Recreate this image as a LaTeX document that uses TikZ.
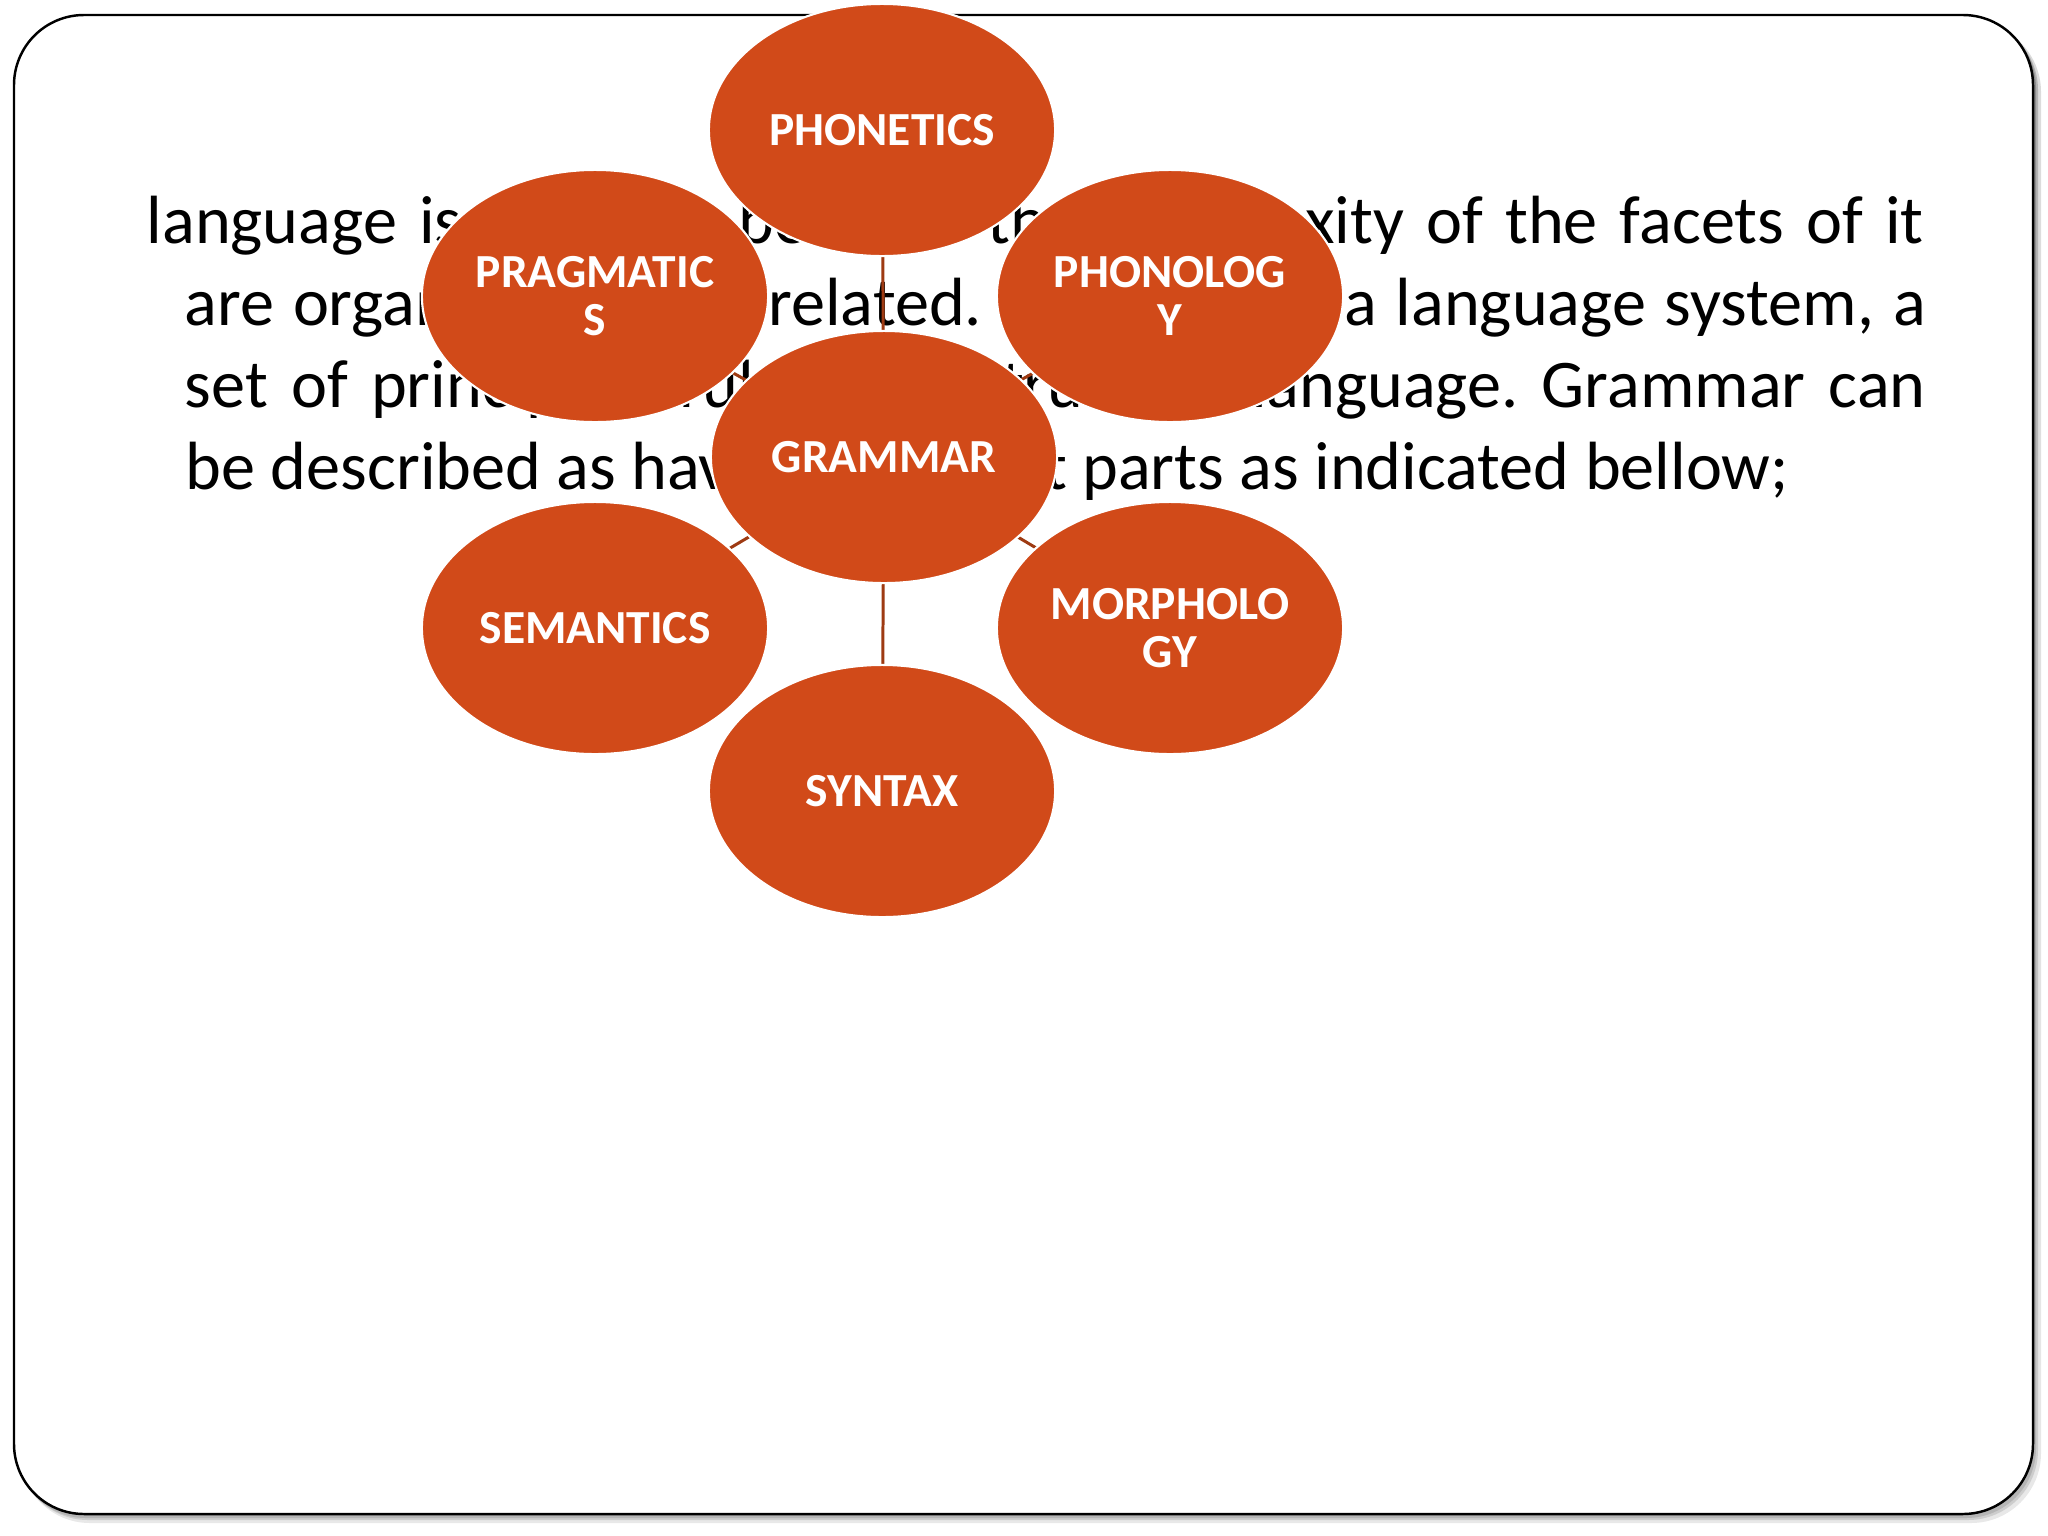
\documentclass[tikz,border=0pt]{standalone}
\usepackage{fontspec}
\setmainfont{Carlito}
\usetikzlibrary{shapes.geometric}
\definecolor{petal}{HTML}{D14A19}
\definecolor{linkc}{HTML}{9E3A12}
\definecolor{shade}{HTML}{808080}
\frenchspacing
\pgfdeclarelayer{back}
\pgfdeclarelayer{mid}
\pgfsetlayers{back,mid,main}
\tikzset{
  petalnode/.style={ellipse, fill=petal, draw=white, line width=0.6pt,
    minimum width=3.46cm, minimum height=2.52cm, inner sep=0pt,
    text=white, align=center,
    font=\fontsize{13.5pt}{13.7pt}\selectfont\bfseries},
  bodytext/.style={anchor=base west, inner sep=0pt, text=black,
    font=\fontsize{19.4pt}{23.3pt}\selectfont},
  link/.style={draw=linkc, line width=0.85pt},
  frame/.style={draw=black, line width=0.7pt, fill=white, rounded corners=0.7cm}
}
\begin{document}
\begin{tikzpicture}[x=0.01cm,y=-0.01cm]
\useasboundingbox (0,0) rectangle (2048,1536);

% petals
\node[petalnode] (phonetics) at (882,130) {PHONETICS};
\node[petalnode] (pragmatics) at (595,296) {PRAGMATIC\\S};
\node[petalnode] (phonology) at (1170,296) {PHONOLOG\\Y};
\node[petalnode] (grammar) at (884,457) {GRAMMAR};
\node[petalnode] (semantics) at (595,628) {SEMANTICS};
\node[petalnode] (morphology) at (1170,628) {MORPHOLO\\GY};
\node[petalnode] (syntax) at (882,791) {SYNTAX};

\begin{pgfonlayer}{mid}
\draw[link] (grammar.center) -- (phonetics.center);
\draw[link] (grammar.center) -- (pragmatics.center);
\draw[link] (grammar.center) -- (phonology.center);
\draw[link] (grammar.center) -- (semantics.center);
\draw[link] (grammar.center) -- (morphology.center);
\draw[link] (grammar.center) -- (syntax.center);
\end{pgfonlayer}

\begin{pgfonlayer}{back}
% frame with soft shadow
\fill[shade, opacity=0.10, rounded corners=0.7cm] (20,22) rectangle (2041,1523);
\fill[shade, opacity=0.15, rounded corners=0.7cm] (18,20) rectangle (2038,1520);
\fill[shade, opacity=0.20, rounded corners=0.7cm] (16,18) rectangle (2036,1518);
\path[frame] (14,15) rectangle (2033,1514);
% body text
\node[bodytext] (line1) at (146,243) {\makebox[17.76cm][s]{language is complex because the complexity of the facets of it}};
\node[bodytext] (line2) at (184,325) {\makebox[17.40cm][s]{are organic and interrelated. Grammar is a language system, a}};
\node[bodytext] (line3) at (184,407) {\makebox[17.40cm][s]{set of principles, rules that structure language. Grammar can}};
\node[bodytext] (line4) at (185,489) {be described as having different parts as indicated bellow;};
\end{pgfonlayer}
\end{tikzpicture}
\end{document}
